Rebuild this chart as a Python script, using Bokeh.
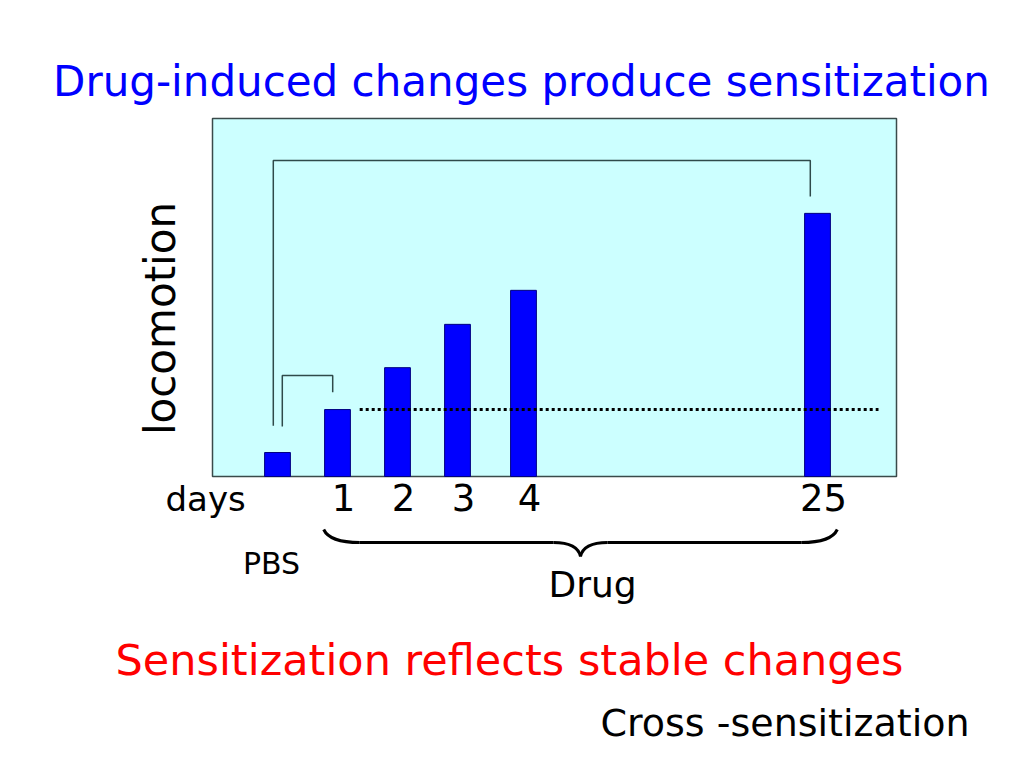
import numpy as np
from bokeh.plotting import figure
from bokeh.models import Range1d, Label, ColumnDataSource
from bokeh.core.properties import value
from bokeh.embed import file_html
from bokeh.resources import INLINE

# ---- data -------------------------------------------------------------
groups = ["PBS", "1", "2", "3", "4", "25"]          # PBS baseline, then drug days
tick_labels = ["", "1", "2", "3", "4", "25"]
locomotion = [6.7, 18.7, 30.4, 42.5, 52.0, 73.5]   # relative locomotor activity
slot = [0.0, 1.0, 2.0, 3.0, 4.1, 9.0]               # x slot of each bar (axis is broken before day 25)

# ---- page geometry (pixels) -------------------------------------------
W, H = 1024, 768
PX_X = 60.0        # pixels per x slot
PX_Y = 3.58        # pixels per locomotion unit
X0_PX = 277.0      # pixel column of slot 0
Y0_PX = 476.0      # pixel row (from top) of locomotion 0
LIFT = 14          # raise text baselines so glyph bottoms sit on the intended row

def sx(px):   # pixel column -> x data
    return (px - X0_PX) / PX_X

def sy(py):   # pixel row from top -> y data
    return (Y0_PX - py) / PX_Y

FONT = "DejaVu Sans"
BLUE = "#0000FF"
GREY = "#2f4a4a"

p = figure(width=W, height=H, output_backend="svg", toolbar_location=None,
           x_range=Range1d(sx(0), sx(W)), y_range=Range1d(sy(H), sy(0)),
           min_border=0, outline_line_color=None, background_fill_color="white",
           border_fill_color="white")
p.axis.visible = False
p.grid.visible = False

# plot panel
p.quad(left=sx(212), right=sx(896), bottom=0, top=100,
       fill_color="#CCFFFF", line_color="#3a4a4a", line_width=1.5)

# bars
src = ColumnDataSource(dict(x=slot, top=locomotion, label=tick_labels, group=groups))
p.vbar(x="x", top="top", bottom=0, width=0.43, source=src,
       fill_color=BLUE, line_color="#000080", line_width=1)

# dotted reference line at day-1 level
p.line(x=[slot[1] + 0.37, sx(878)], y=[locomotion[1], locomotion[1]],
       line_color="black", line_width=3, line_dash="3 3")

# comparison brackets
big_top = locomotion[-1] + 14.8
p.line(x=[slot[0] - 0.07, slot[0] - 0.07, slot[-1] - 0.12, slot[-1] - 0.12],
       y=[locomotion[0] + 7.5, big_top, big_top, locomotion[-1] + 4.7],
       line_color=GREY, line_width=1.5)
small_top = locomotion[1] + 9.5
p.line(x=[slot[0] + 0.08, slot[0] + 0.08, slot[1] - 0.08, slot[1] - 0.08],
       y=[locomotion[0] + 7.3, small_top, small_top, locomotion[1] + 4.8],
       line_color=GREY, line_width=1.5)

# tick labels under the bars
p.text(x="x", y=sy(511 - LIFT), text="label", source=src, text_align="center",
       text_baseline="alphabetic", text_font=value(FONT), text_font_size="37px",
       text_color="black", x_offset=6)

# curly brace spanning the drug days
xl, xr = slot[1] - 0.23, slot[-1] + 0.33
xm = (xl + xr) / 2
ye, yh, yp = sy(529), sy(542), sy(556)
p.quadratic(x0=[xl, xm, xm, xr], y0=[ye, yp, yp, ye],
            x1=[xl + 0.6, xm - 0.45, xm + 0.45, xr - 0.6], y1=[yh] * 4,
            cx=[xl + 0.1, xm - 0.05, xm + 0.05, xr - 0.1], cy=[yh] * 4,
            line_color="black", line_width=3)
p.segment(x0=[xl + 0.6, xm + 0.45], y0=[yh, yh], x1=[xm - 0.45, xr - 0.6], y1=[yh, yh],
          line_color="black", line_width=3)

def label(text, x, y, size, color="black", align="left", angle=0.0, baseline="alphabetic"):
    lift = LIFT if baseline == "alphabetic" else 0
    p.add_layout(Label(x=x, y=H - y + lift, x_units="screen", y_units="screen", text=text,
                       text_font=FONT, text_font_size=size, text_color=color,
                       text_align=align, text_baseline=baseline, angle=angle))

label("Drug-induced changes produce sensitization", 521, 95, "42px", BLUE, "center")
label("locomotion", 160, 318, "42px", "black", "center", np.pi / 2, "middle")
label("days", 165, 512, "34px")
label("PBS", 271, 577, "30px", align="center")
label("Drug", 592, 598, "36px", align="center")
label("Sensitization reflects stable changes", 509, 673, "43px", "#FF0000", "center")
label("Cross -sensitization", 600, 736, "38px")

open("out.html", "w").write(file_html(p, INLINE))
